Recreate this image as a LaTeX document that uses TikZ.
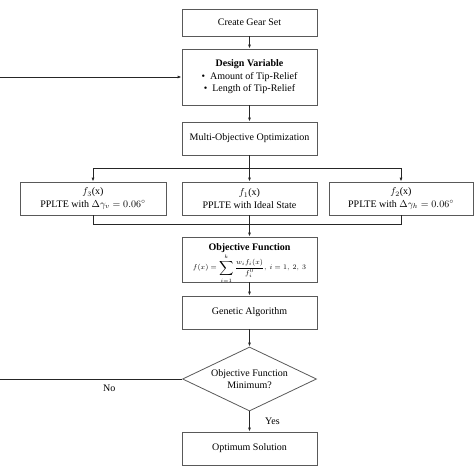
\documentclass[tikz,border=0pt]{standalone}
\usepackage{fontspec}
\setmainfont{Liberation Serif}
\usetikzlibrary{shapes.geometric,arrows.meta}
\begin{document}
\begin{tikzpicture}[x=1pt,y=-1pt,
  box/.style={draw=black!65,line width=0.8pt,rectangle,minimum width=135pt,inner sep=0pt,align=center,font=\fontsize{10}{12.5}\selectfont},
  dec/.style={draw=black!65,line width=0.8pt,diamond,aspect=2.1,minimum width=134pt,minimum height=64pt,inner sep=0pt,align=center,font=\fontsize{10}{12.5}\selectfont},
  txt/.style={inner sep=0pt,font=\fontsize{10}{12.5}\selectfont},
  conn/.style={draw=black!85,line width=0.8pt},
  arr/.style={conn,-{Latex[length=4pt,width=3pt]}},
  lbl/.style={font=\fontsize{10}{12}\selectfont}]
\useasboundingbox (0,0) rectangle (474,474);
\node[box,minimum height=27pt] (create) at (249.5,22.5) {Create Gear Set};
\node[box,minimum height=56pt] (design) at (249.5,77) {\textbf{Design Variable}\\ \textbullet\ \ Amount of Tip-Relief\\ \textbullet\ \ Length of Tip-Relief};
\node[box,minimum height=33pt] (multi) at (249.5,138.5) {Multi-Objective Optimization};
\node[box,minimum width=146pt,minimum height=33pt] (f3) at (93,198.5) {$f_3$(x)\\PPLTE with $\Delta\gamma_v = 0.06^\circ$};
\node[box,minimum height=33pt] (f1) at (249.5,198.5) {$f_1$(x)\\PPLTE with Ideal State};
\node[box,minimum width=144pt,minimum height=33pt] (f2) at (401,198.5) {$f_2$(x)\\PPLTE with $\Delta\gamma_h = 0.06^\circ$};
\node[box,minimum height=45pt] (obj) at (249.5,259.5) {};
\node[txt] (objt) at (249.5,248) {\textbf{Objective Function}};
\node[txt,font=\fontsize{7}{8}\selectfont] (objf) at (249.5,268.5) {$f(x)=\displaystyle\sum_{i=1}^{k}\frac{w_i f_i(x)}{f_i^{0}},\ i=1,\ 2,\ 3$};
\node[box,minimum height=33pt] (gen) at (249.5,312.5) {Genetic Algorithm};
\node[dec] (min) at (249.5,379) {Objective Function\\Minimum?};
\node[box,minimum height=33pt] (opt) at (249.5,448.5) {Optimum Solution};
\coordinate (inL) at (0,77);
\coordinate (noL) at (0,379);
\coordinate (split) at (249.5,168);
\coordinate (join) at (249.5,224);
\draw[arr] (create) -- (design);
\draw[arr] (design) -- (multi);
\draw[arr] (inL) -- (design.west);
\draw[conn] (multi) -- (split);
\draw[arr] (split) -| (f3.north);
\draw[arr] (split) -| (f2.north);
\draw[arr] (split) -- (f1.north);
\draw[conn] (f3.south) |- (join);
\draw[conn] (f2.south) |- (join);
\draw[arr] (f1.south) -- (obj.north);
\draw[arr] (obj) -- (gen);
\draw[arr] (gen) -- (min.north);
\draw[arr] (min.south) -- node[lbl,right=12pt,pos=0.5] (yes) {Yes} (opt);
\draw[conn] (min.west) -- node[lbl,below=2pt,pos=0.4] (no) {No} (noL);
\end{tikzpicture}
\end{document}
